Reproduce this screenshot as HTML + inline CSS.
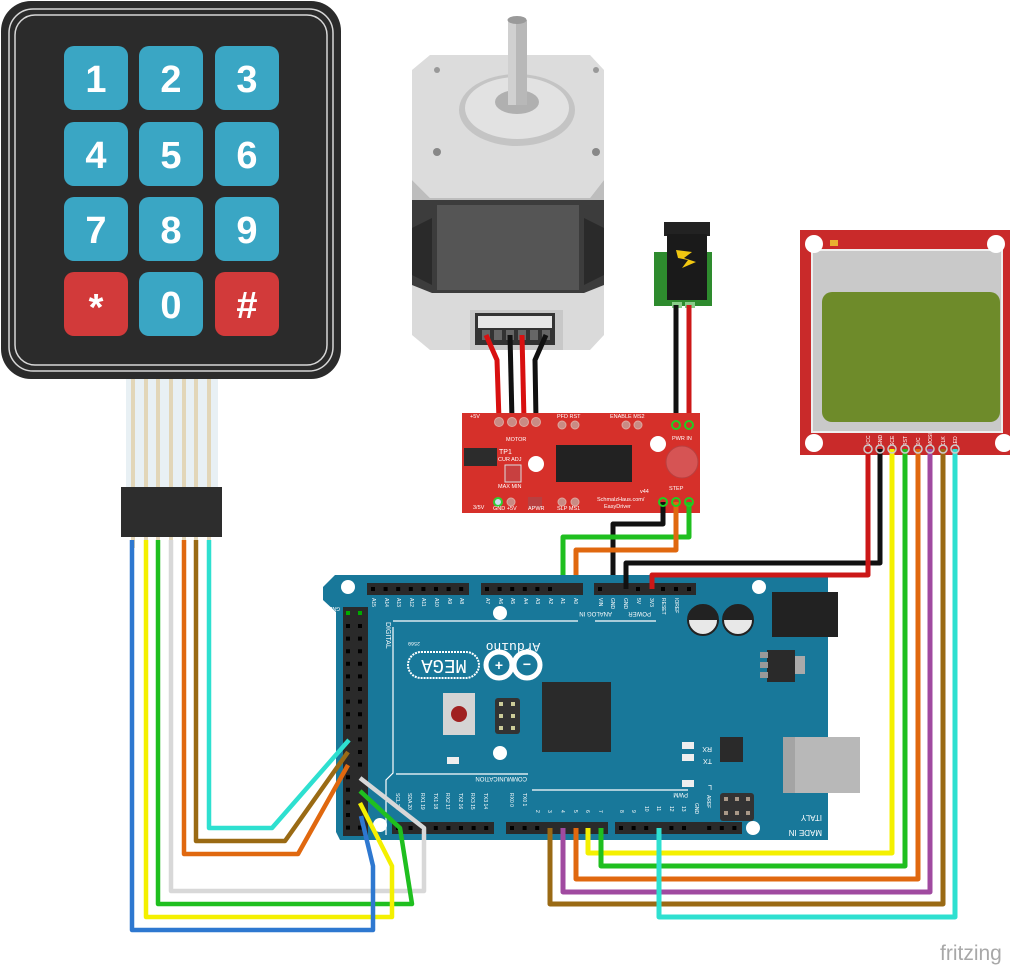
<!DOCTYPE html>
<html><head><meta charset="utf-8"><style>
html,body{margin:0;padding:0;background:#fff}
svg{display:block}
text{font-family:"Liberation Sans",sans-serif}
.m{font-family:"Liberation Mono",monospace}
</style></head><body>
<svg width="1024" height="968" viewBox="0 0 1024 968" xmlns="http://www.w3.org/2000/svg">
<!-- KEYPAD -->
<rect x="1" y="1" width="340" height="378" rx="30" fill="#2b2b2b"/>
<rect x="9" y="9" width="324" height="362" rx="24" fill="none" stroke="#d8d8d8" stroke-width="1.5"/>
<rect x="15" y="15" width="312" height="350" rx="20" fill="none" stroke="#d8d8d8" stroke-width="1.5"/>
<g font-size="38" font-weight="bold" fill="#fff" text-anchor="middle">
<rect x="64" y="46" width="64" height="64" rx="10" fill="#3aa6c4"/><text x="96" y="92">1</text>
<rect x="139" y="46" width="64" height="64" rx="10" fill="#3aa6c4"/><text x="171" y="92">2</text>
<rect x="215" y="46" width="64" height="64" rx="10" fill="#3aa6c4"/><text x="247" y="92">3</text>
<rect x="64" y="122" width="64" height="64" rx="10" fill="#3aa6c4"/><text x="96" y="168">4</text>
<rect x="139" y="122" width="64" height="64" rx="10" fill="#3aa6c4"/><text x="171" y="168">5</text>
<rect x="215" y="122" width="64" height="64" rx="10" fill="#3aa6c4"/><text x="247" y="168">6</text>
<rect x="64" y="197" width="64" height="64" rx="10" fill="#3aa6c4"/><text x="96" y="243">7</text>
<rect x="139" y="197" width="64" height="64" rx="10" fill="#3aa6c4"/><text x="171" y="243">8</text>
<rect x="215" y="197" width="64" height="64" rx="10" fill="#3aa6c4"/><text x="247" y="243">9</text>
<rect x="64" y="272" width="64" height="64" rx="10" fill="#d23a3a"/><text x="96" y="320">*</text>
<rect x="139" y="272" width="64" height="64" rx="10" fill="#3aa6c4"/><text x="171" y="318">0</text>
<rect x="215" y="272" width="64" height="64" rx="10" fill="#d23a3a"/><text x="247" y="318">#</text>
</g>
<!-- ribbon -->
<rect x="126" y="379" width="92" height="110" fill="#e8f0f4"/>
<g stroke="#e2d6b8" stroke-width="4">
<line x1="133" y1="379" x2="133" y2="548"/><line x1="146" y1="379" x2="146" y2="548"/><line x1="158" y1="379" x2="158" y2="548"/><line x1="171" y1="379" x2="171" y2="548"/><line x1="184" y1="379" x2="184" y2="548"/><line x1="196" y1="379" x2="196" y2="548"/><line x1="209" y1="379" x2="209" y2="548"/>
</g>
<rect x="121" y="487" width="101" height="50" fill="#2d2d2d"/>

<!-- STEPPER MOTOR -->
<polygon points="430,55 590,55 604,70 604,180 590,198 430,198 412,180 412,70" fill="#dcdcdc"/>
<polygon points="412,180 430,198 590,198 604,180 604,200 412,200" fill="#bdbdbd"/>
<ellipse cx="517" cy="110" rx="58" ry="36" fill="#c4c4c4"/>
<ellipse cx="517" cy="108" rx="52" ry="31" fill="#e2e2e2"/>
<ellipse cx="517" cy="102" rx="22" ry="12" fill="#b0b0b0"/>
<rect x="508" y="20" width="19" height="85" fill="#b8b8b8"/>
<rect x="508" y="20" width="8" height="85" fill="#d0d0d0"/>
<ellipse cx="517" cy="20" rx="9.5" ry="4" fill="#9a9a9a"/>
<circle cx="437" cy="152" r="4" fill="#888"/><circle cx="596" cy="152" r="4" fill="#888"/><circle cx="437" cy="70" r="3" fill="#999"/><circle cx="596" cy="70" r="3" fill="#999"/>
<rect x="412" y="200" width="192" height="95" fill="#3c3c3c"/>
<rect x="437" y="205" width="142" height="85" fill="#555"/>
<polygon points="412,228 432,218 432,285 412,275" fill="#2a2a2a"/>
<polygon points="604,228 584,218 584,285 604,275" fill="#2a2a2a"/>
<polygon points="412,285 432,293 584,293 604,285 604,335 590,350 430,350 412,335" fill="#dadada"/>
<rect x="470" y="310" width="93" height="40" fill="#c8c8c8"/>
<rect x="475" y="313" width="80" height="32" fill="#333"/>
<rect x="478" y="316" width="74" height="12" fill="#e6e6e6"/>
<g fill="#666"><rect x="482" y="330" width="8" height="10"/><rect x="494" y="330" width="8" height="10"/><rect x="506" y="330" width="8" height="10"/><rect x="518" y="330" width="8" height="10"/><rect x="530" y="330" width="8" height="10"/><rect x="542" y="330" width="8" height="10"/></g>
<g fill="none" stroke-width="5" stroke-linejoin="round">
<polyline points="486,335 497,360 499,420" stroke="#d81010"/>
<polyline points="510,335 512,420" stroke="#111"/>
<polyline points="522,335 524,420" stroke="#d81010"/>
<polyline points="546,335 535,360 536,420" stroke="#111"/>
</g>

<!-- POWER JACK -->
<rect x="654" y="252" width="58" height="54" fill="#2e8b2e"/>
<rect x="664" y="222" width="46" height="14" fill="#222"/>
<rect x="667" y="234" width="40" height="66" fill="#1a1a1a"/>
<polygon points="676,250 692,252 684,258 696,262 682,268 688,260 678,258" fill="#f2c811"/>
<rect x="672" y="302" width="10" height="6" fill="#8c8"/><rect x="685" y="302" width="10" height="6" fill="#8c8"/>
<line x1="676" y1="305" x2="676" y2="425" stroke="#111" stroke-width="5"/>
<line x1="689" y1="305" x2="689" y2="425" stroke="#cc1818" stroke-width="5"/>

<!-- EASYDRIVER -->
<rect x="462" y="413" width="238" height="100" fill="#d6302a"/>
<g fill="#c98b84" stroke="#e0a79f" stroke-width="1"><circle cx="499" cy="422" r="4.5"/><circle cx="512" cy="422" r="4.5"/><circle cx="524" cy="422" r="4.5"/><circle cx="536" cy="422" r="4.5"/>
<circle cx="562" cy="425" r="4"/><circle cx="575" cy="425" r="4"/><circle cx="626" cy="425" r="4"/><circle cx="638" cy="425" r="4"/>
<circle cx="511" cy="502" r="4"/><circle cx="562" cy="502" r="4"/><circle cx="575" cy="502" r="4"/></g>
<circle cx="498" cy="502" r="4" fill="#cde" stroke="#3c3" stroke-width="2"/>
<rect x="464" y="448" width="33" height="18" fill="#2c2c2c"/>
<rect x="505" y="465" width="16" height="17" fill="#c84040" stroke="#ddd" stroke-width="1"/>
<circle cx="536" cy="464" r="8" fill="#fff"/>
<circle cx="658" cy="444" r="8" fill="#fff"/>
<rect x="556" y="445" width="76" height="37" fill="#222"/>
<circle cx="682" cy="462" r="16" fill="#d65454" stroke="#b84040"/>
<rect x="528" y="497" width="14" height="11" fill="#b84040"/>
<g font-size="5.5" fill="#fff" class="m">
<text x="470" y="418">+5V</text><text x="506" y="441">MOTOR</text><text x="557" y="418">PFD RST</text><text x="610" y="418">ENABLE MS2</text>
<text x="672" y="440">PWR IN</text><text x="499" y="454" font-size="7">TP1</text><text x="498" y="461">CUR ADJ</text><text x="498" y="488">MAX MIN</text>
<text x="473" y="509">3/5V</text><text x="493" y="510">GND +5V</text><text x="528" y="510">APWR</text><text x="557" y="510">SLP MS1</text>
<text x="597" y="501">SchmalzHaus.com/</text><text x="604" y="508">EasyDriver</text><text x="669" y="490">STEP</text><text x="640" y="493">v44</text>
</g>
<g fill="none" stroke-width="5" stroke-linejoin="round">
<polyline points="663,502 663,524 613,524 613,589" stroke="#111"/>
<polyline points="689,502 689,537 563,537 563,589" stroke="#1fbf1f"/>
<polyline points="676,502 676,550 576,550 576,589" stroke="#e0680f"/>
</g>
<g fill="none" stroke="#2c2" stroke-width="2"><circle cx="663" cy="502" r="4"/><circle cx="676" cy="502" r="4"/><circle cx="689" cy="502" r="4"/><circle cx="676" cy="425" r="4"/><circle cx="689" cy="425" r="4"/></g>

<!-- LCD -->
<rect x="800" y="230" width="210" height="225" fill="#c92a2a"/>
<rect x="812" y="250" width="190" height="182" fill="#c9c9c9" stroke="#eee" stroke-width="2"/>
<rect x="822" y="292" width="178" height="130" rx="10" fill="#6e8b2a"/>
<g fill="#fff"><circle cx="814" cy="244" r="9"/><circle cx="996" cy="244" r="9"/><circle cx="814" cy="443" r="9"/><circle cx="1004" cy="443" r="9"/></g>
<rect x="830" y="240" width="8" height="6" fill="#e8b030"/>
<g font-size="5" fill="#fff" class="m">
<text transform="translate(870,446) rotate(-90)">VCC</text><text transform="translate(882,446) rotate(-90)">GND</text><text transform="translate(894,446) rotate(-90)">SCE</text><text transform="translate(907,446) rotate(-90)">RST</text><text transform="translate(920,446) rotate(-90)">D/C</text><text transform="translate(932,446) rotate(-90)">MOSI</text><text transform="translate(945,446) rotate(-90)">CLK</text><text transform="translate(957,446) rotate(-90)">LED</text>
</g>

<!-- ARDUINO MEGA -->
<polygon points="335,575 828,575 828,840 340,840 336,832 336,612 323,600 323,587" fill="#18789a"/>
<rect x="772" y="592" width="66" height="45" fill="#222"/>
<rect x="783" y="737" width="77" height="56" fill="#b8b8b8"/>
<rect x="783" y="737" width="12" height="56" fill="#a4a4a4"/>
<rect x="767" y="650" width="28" height="32" fill="#2a2a2a"/>
<rect x="760" y="652" width="8" height="6" fill="#999"/><rect x="760" y="662" width="8" height="6" fill="#999"/><rect x="760" y="672" width="8" height="6" fill="#999"/><rect x="795" y="656" width="10" height="18" fill="#aaa"/>
<circle cx="703" cy="620" r="15" fill="#e8e8e8" stroke="#222" stroke-width="2"/><circle cx="738" cy="620" r="15" fill="#e8e8e8" stroke="#222" stroke-width="2"/>
<path d="M688,620 A15,15 0 0 1 718,620 Z" fill="#222"/><path d="M723,620 A15,15 0 0 1 753,620 Z" fill="#222"/>
<rect x="542" y="682" width="69" height="70" fill="#2a2a2a"/>
<rect x="720" y="737" width="23" height="25" fill="#2a2a2a"/>
<rect x="443" y="693" width="32" height="42" fill="#d4d4d4"/><circle cx="459" cy="714" r="8" fill="#a02020"/>
<rect x="495" y="698" width="25" height="36" rx="3" fill="#333"/>
<g fill="#cc9"><rect x="499" y="702" width="4" height="4"/><rect x="511" y="702" width="4" height="4"/><rect x="499" y="714" width="4" height="4"/><rect x="511" y="714" width="4" height="4"/><rect x="499" y="726" width="4" height="4"/><rect x="511" y="726" width="4" height="4"/></g>
<g fill="#eee"><rect x="682" y="742" width="12" height="7"/><rect x="682" y="754" width="12" height="7"/><rect x="682" y="780" width="12" height="7"/><rect x="447" y="757" width="12" height="7"/></g>
<g fill="#fff"><circle cx="348" cy="587" r="7"/><circle cx="759" cy="587" r="7"/><circle cx="500" cy="613" r="7"/><circle cx="500" cy="753" r="7"/><circle cx="753" cy="828" r="7"/><circle cx="380" cy="825" r="7"/></g>
<!-- logo -->
<rect x="408" y="652" width="71" height="26" rx="13" fill="none" stroke="#fff" stroke-width="2" stroke-dasharray="2 1"/>
<text transform="translate(444,665) rotate(180)" font-size="19" fill="#fff" class="m" text-anchor="middle" dominant-baseline="middle">MEGA</text>
<circle cx="499" cy="665" r="13" fill="none" stroke="#fff" stroke-width="5"/><circle cx="527" cy="665" r="13" fill="none" stroke="#fff" stroke-width="5"/>
<text x="499" y="670" font-size="14" fill="#fff" text-anchor="middle" font-weight="bold">+</text><text x="527" y="669" font-size="14" fill="#fff" text-anchor="middle" font-weight="bold">−</text>
<text transform="translate(513,643) rotate(180)" font-size="13" fill="#fff" class="m" text-anchor="middle">Arduino</text>
<text transform="translate(420,642) rotate(180)" font-size="5" fill="#fff" class="m">2560</text>
<!-- silkscreen lines -->
<g stroke="#fff" stroke-width="1.2" fill="none">
<polyline points="393,621 578,621"/><line x1="595" y1="621" x2="656" y2="621"/>
<polyline points="393,627 393,773 386,780 386,835"/>
<line x1="396" y1="774" x2="528" y2="774"/><line x1="532" y1="790" x2="688" y2="790"/>
</g>
<!-- headers -->
<g fill="#2a2a2a">
<rect x="367" y="583" width="102" height="12"/><rect x="481" y="583" width="102" height="12"/><rect x="594" y="583" width="102" height="12"/>
<rect x="343" y="607" width="25" height="229"/>
<rect x="392" y="822" width="102" height="12"/><rect x="506" y="822" width="102" height="12"/><rect x="615" y="822" width="127" height="12"/>
</g>
<g fill="#000">
<path d="M371,587h4v4h-4zM383.6,587h4v4h-4zM396.2,587h4v4h-4zM408.8,587h4v4h-4zM421.4,587h4v4h-4zM434,587h4v4h-4zM446.6,587h4v4h-4zM459.2,587h4v4h-4z"/>
<path d="M485,587h4v4h-4zM497.6,587h4v4h-4zM510.2,587h4v4h-4zM522.8,587h4v4h-4zM535.4,587h4v4h-4zM548,587h4v4h-4z"/>
<path d="M598,587h4v4h-4zM636,587h4v4h-4zM661,587h4v4h-4zM674,587h4v4h-4zM687,587h4v4h-4z"/>
<path d="M396,826h4v4h-4zM408.6,826h4v4h-4zM421.2,826h4v4h-4zM433.8,826h4v4h-4zM446.4,826h4v4h-4zM459,826h4v4h-4zM471.6,826h4v4h-4zM484.2,826h4v4h-4z"/>
<path d="M510,826h4v4h-4zM522.6,826h4v4h-4zM535.2,826h4v4h-4z"/>
<path d="M619,826h4v4h-4zM631.6,826h4v4h-4zM644.2,826h4v4h-4zM669.4,826h4v4h-4zM682,826h4v4h-4zM707.2,826h4v4h-4zM719.8,826h4v4h-4zM732.4,826h4v4h-4z"/>
</g>
<g fill="#000">
<path d="M346,624h4v4h-4zM346,636.6h4v4h-4zM346,649.2h4v4h-4zM346,661.8h4v4h-4zM346,674.4h4v4h-4zM346,687h4v4h-4zM346,699.6h4v4h-4zM346,712.2h4v4h-4zM346,724.8h4v4h-4zM346,775.2h4v4h-4zM346,787.8h4v4h-4zM346,800.4h4v4h-4zM346,813h4v4h-4zM346,825.6h4v4h-4z"/>
<path d="M358,624h4v4h-4zM358,636.6h4v4h-4zM358,649.2h4v4h-4zM358,661.8h4v4h-4zM358,674.4h4v4h-4zM358,687h4v4h-4zM358,699.6h4v4h-4zM358,712.2h4v4h-4zM358,724.8h4v4h-4zM358,737.4h4v4h-4zM358,750h4v4h-4zM358,762.6h4v4h-4zM358,825.6h4v4h-4z"/>
</g>
<rect x="346" y="611" width="4" height="4" fill="#0a0"/><rect x="358" y="611" width="4" height="4" fill="#0a0"/>
<!-- upside-down labels -->
<g font-size="6" fill="#fff" class="m">
<text transform="translate(612,612) rotate(180)">ANALOG IN</text>
<text transform="translate(651,612) rotate(180)">POWER</text>
<text transform="translate(527,777) rotate(180)">COMMUNICATION</text>
<text transform="translate(688,793) rotate(180)">PWM</text>
<text transform="translate(822,815) rotate(180)" font-size="8">ITALY</text>
<text transform="translate(822,830) rotate(180)" font-size="8">MADE IN</text>
<text transform="translate(712,747) rotate(180)" font-size="7">RX</text>
<text transform="translate(712,759) rotate(180)" font-size="7">TX</text>
<text transform="translate(712,785) rotate(180)" font-size="7">L</text>
<text transform="translate(386,622) rotate(90)" font-size="7">DIGITAL</text>
<text transform="translate(340,607) rotate(180)" font-size="5">GND</text>
</g>
<g font-size="5" fill="#fff" class="m">
<text transform="translate(372,598) rotate(90)">A15</text><text transform="translate(385,598) rotate(90)">A14</text><text transform="translate(397,598) rotate(90)">A13</text><text transform="translate(410,598) rotate(90)">A12</text><text transform="translate(422,598) rotate(90)">A11</text><text transform="translate(435,598) rotate(90)">A10</text><text transform="translate(448,598) rotate(90)">A9</text><text transform="translate(460,598) rotate(90)">A8</text>
<text transform="translate(486,598) rotate(90)">A7</text><text transform="translate(499,598) rotate(90)">A6</text><text transform="translate(511,598) rotate(90)">A5</text><text transform="translate(524,598) rotate(90)">A4</text><text transform="translate(536,598) rotate(90)">A3</text><text transform="translate(549,598) rotate(90)">A2</text><text transform="translate(561,598) rotate(90)">A1</text><text transform="translate(574,598) rotate(90)">A0</text>
<text transform="translate(599,598) rotate(90)">VIN</text><text transform="translate(611,598) rotate(90)">GND</text><text transform="translate(624,598) rotate(90)">GND</text><text transform="translate(637,598) rotate(90)">5V</text><text transform="translate(650,598) rotate(90)">3V3</text><text transform="translate(662,598) rotate(90)">RESET</text><text transform="translate(675,598) rotate(90)">IOREF</text>
<text transform="translate(396,793) rotate(90)">SCL 21</text><text transform="translate(408,793) rotate(90)">SDA 20</text><text transform="translate(421,793) rotate(90)">RX1 19</text><text transform="translate(434,793) rotate(90)">TX1 18</text><text transform="translate(446,793) rotate(90)">RX2 17</text><text transform="translate(459,793) rotate(90)">TX2 16</text><text transform="translate(471,793) rotate(90)">RX3 15</text><text transform="translate(484,793) rotate(90)">TX3 14</text>
<text transform="translate(510,793) rotate(90)">RX0 0</text><text transform="translate(523,793) rotate(90)">TX0 1</text><text transform="translate(536,810) rotate(90)">2</text><text transform="translate(548,810) rotate(90)">3</text><text transform="translate(561,810) rotate(90)">4</text><text transform="translate(574,810) rotate(90)">5</text><text transform="translate(586,810) rotate(90)">6</text><text transform="translate(599,810) rotate(90)">7</text>
<text transform="translate(620,810) rotate(90)">8</text><text transform="translate(632,810) rotate(90)">9</text><text transform="translate(645,806) rotate(90)">10</text><text transform="translate(657,806) rotate(90)">11</text><text transform="translate(670,806) rotate(90)">12</text><text transform="translate(682,806) rotate(90)">13</text><text transform="translate(695,803) rotate(90)">GND</text><text transform="translate(707,795) rotate(90)">AREF</text>
</g>
<rect x="720" y="793" width="34" height="28" rx="3" fill="#333"/>
<g fill="#a98"><rect x="724" y="797" width="4" height="4"/><rect x="735" y="797" width="4" height="4"/><rect x="746" y="797" width="4" height="4"/><rect x="724" y="811" width="4" height="4"/><rect x="735" y="811" width="4" height="4"/><rect x="746" y="811" width="4" height="4"/></g>

<!-- LCD / power wires -->
<g fill="none" stroke-width="5" stroke-linejoin="round">
<polyline points="880,449 880,563 626,563 626,589" stroke="#111"/>
<polyline points="868,449 868,575 652,575 652,589" stroke="#cc1818"/>
<polyline points="892,449 892,853 588,853 588,828" stroke="#f4f000"/>
<polyline points="905,449 905,866 601,866 601,828" stroke="#1fbf1f"/>
<polyline points="918,449 918,879 576,879 576,828" stroke="#e0680f"/>
<polyline points="930,449 930,892 563,892 563,828" stroke="#a04aa0"/>
<polyline points="943,449 943,904 550,904 550,828" stroke="#9a6a14"/>
<polyline points="955,449 955,917 659,917 659,828" stroke="#2ee0d0"/>
</g>
<g fill="none" stroke="#ccc" stroke-width="1.5"><circle cx="868" cy="449" r="4"/><circle cx="880" cy="449" r="4"/><circle cx="892" cy="449" r="4"/><circle cx="905" cy="449" r="4"/><circle cx="918" cy="449" r="4"/><circle cx="930" cy="449" r="4"/><circle cx="943" cy="449" r="4"/><circle cx="955" cy="449" r="4"/></g>

<!-- keypad wires -->
<g fill="none" stroke-width="4.5" stroke-linejoin="round">
<polyline points="209,540 209,828 272,828 349,740" stroke="#2ee0d0"/>
<polyline points="196,540 196,841 285,841 348,752" stroke="#9a6a14"/>
<polyline points="184,540 184,854 298,854 348,765" stroke="#e0680f"/>
<polyline points="171,540 171,891 424,891 424,828 360,778" stroke="#d8d8d8"/>
<polyline points="158,540 158,904 412,904 400,828 360,791" stroke="#1fbf1f"/>
<polyline points="146,540 146,917 392,917 392,866 360,803" stroke="#f4f000"/>
<polyline points="132,540 132,930 373,930 373,866 361,816" stroke="#2e78d0"/>
</g>

<text x="940" y="960" font-size="21" fill="#a8a8a8">fritzing</text>
</svg>
</body></html>
